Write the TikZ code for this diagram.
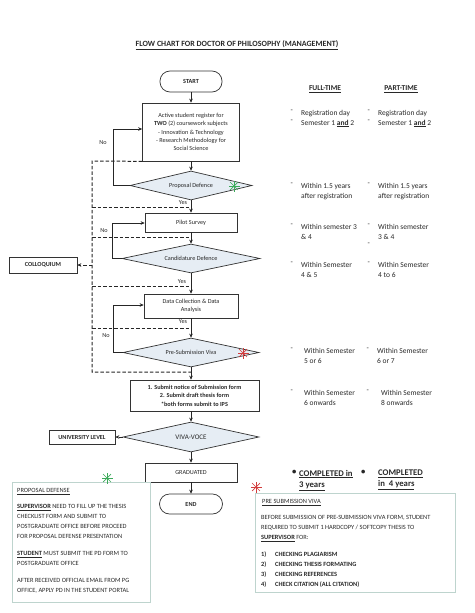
\documentclass[tikz,border=0pt]{standalone}
\usepackage{fontspec}
\setmainfont{Carlito}
\usetikzlibrary{shapes.geometric,arrows.meta}
\newcommand{\fsz}[2]{\fontsize{#1}{#2}\selectfont}
\definecolor{diafill}{RGB}{230,237,244}
\definecolor{notebd}{RGB}{190,212,206}
\definecolor{txt}{RGB}{40,40,40}
\definecolor{stargreen}{RGB}{60,170,90}
\definecolor{starred}{RGB}{210,60,60}
\begin{document}
\begin{tikzpicture}[x=1pt,y=-1pt,
  fbox/.style={draw=black!80, line width=0.7pt, fill=white, align=center, inner sep=1pt, font=\fsz{6.2}{8.3}, text=txt},
  fdia/.style={diamond, draw=black!80, line width=0.7pt, fill=diafill, aspect=4, inner sep=0pt, font=\fsz{6.2}{8.3}, text=txt},
  term/.style={fbox, rounded corners=10pt},
  arr/.style={-{Stealth[length=4pt,width=3.6pt]}, line width=0.7pt, draw=black!85},
  dsh/.style={line width=1pt, dash pattern=on 3.5pt off 2pt, draw=black!85},
  lbl/.style={font=\fsz{6.2}{8}, text=txt, inner sep=0pt},
  rt/.style={anchor=north west, inner sep=0pt, align=left, font=\fsz{7.5}{9.3}, text=txt},
  ct/.style={anchor=north west, inner sep=0pt, align=left, font=\bfseries\fsz{8.7}{11}, text=txt},
  nt/.style={anchor=north west, inner sep=0pt, align=left, font=\fsz{6.4}{10}, text=txt},
  note/.style={draw=notebd, line width=0.8pt, anchor=north west, inner sep=0pt},
  starline/.style={line width=0.7pt}
]
\useasboundingbox (0,0) rectangle (474,613);

% title
\node[font=\bfseries\fsz{8}{10}, text=txt] (title) at (237,45) {\underline{FLOW CHART FOR DOCTOR OF PHILOSOPHY (MANAGEMENT)}};

% flow nodes
\node[term, minimum width=62pt, minimum height=21pt, font=\bfseries\fsz{6.2}{8}] (start) at (191,81.5) {START};
\node[fbox, minimum width=97pt, minimum height=58pt] (active) at (191,132) {Active student register for\\\textbf{TWO} (2) coursework subjects\\- Innovation \& Technology\\- Research Methodology for\\Social Science};
\node[fdia, minimum width=122pt, minimum height=29pt] (pd) at (191,185.5) {Proposal Defence};
\node[fbox, minimum width=92pt, minimum height=19pt] (pilot) at (191,222.5) {Pilot Survey};
\node[fdia, minimum width=138pt, minimum height=29pt] (cd) at (191,258.5) {Candidature Defence};
\node[fbox, minimum width=68pt, minimum height=16pt, font=\bfseries\fsz{6.2}{8}] (colloq) at (43,265) {COLLOQUIUM};
\node[fbox, minimum width=94pt, minimum height=24pt] (data) at (191,306) {Data Collection \& Data\\Analysis};
\node[fdia, minimum width=136pt, minimum height=29pt] (psv) at (191,352.5) {Pre-Submission Viva};
\node[fbox, minimum width=129pt, minimum height=31pt, font=\bfseries\fsz{6.2}{8.5}] (submit) at (194.5,395.5) {1. Submit notice of Submission form\\2. Submit draft thesis form\\*both forms submit to IPS};
\node[fdia, minimum width=136pt, minimum height=30pt, font=\fsz{7}{8}] (viva) at (191,437) {VIVA-VOCE};
\node[fbox, minimum width=66pt, minimum height=14pt, font=\bfseries\fsz{6.2}{8}] (uni) at (82,437) {UNIVERSITY LEVEL};
\node[fbox, minimum width=92pt, minimum height=19pt] (grad) at (191,472.5) {GRADUATED};
\node[term, minimum width=63pt, minimum height=20pt, font=\bfseries\fsz{6.2}{8}] (endn) at (191,504) {END};

% main arrows
\draw[arr] (start) -- (active);
\draw[arr] (active) -- (pd);
\draw[arr] (pd) -- (pilot);
\draw[arr] (pilot) -- (cd);
\draw[arr] (cd) -- (data);
\draw[arr] (data) -- (psv);
\draw[arr] (psv.south) -- (psv.south |- submit.north);
\draw[arr] (submit.south -| viva.north) -- (viva.north);
\draw[arr] (viva) -- (grad);
\draw[arr] (grad) -- (endn);

% No loops
\coordinate (nopd) at (113,129);
\draw[arr] (pd.west) -| (nopd) -- (nopd -| active.west);
\coordinate (nocd) at (112,223);
\draw[arr] (cd.west) -| (nocd) -- (nocd -| pilot.west);
\coordinate (nopsv) at (113,305);
\draw[arr] (psv.west) -| (nopsv) -- (nopsv -| data.west);
\node[lbl] (no1) at (103,143) {No};
\node[lbl] (no2) at (104,231) {No};
\node[lbl] (no3) at (106,336) {No};
\node[lbl] (yes1) at (183,203) {Yes};
\node[lbl] (yes2) at (182,282) {Yes};
\node[lbl] (yes3) at (183,322) {Yes};

% dashed network
\coordinate (dtop) at (92,161);
\coordinate (dbot) at (92,372);
\draw[dsh] (active.south west) -- (dtop) -- (dbot) -- (dbot -| psv.south);
\coordinate (d1) at (92,207);
\draw[dsh] (d1) -- (d1 -| pd.south);
\coordinate (d2) at (92,237);
\draw[dsh] (d2) -- (d2 -| pilot.south);
\coordinate (d3) at (92,286);
\draw[dsh] (d3) -- (d3 -| cd.south);
\coordinate (d4) at (92,328);
\draw[dsh] (d4) -- (d4 -| data.south);
\coordinate (dc) at (92,265);
\draw[arr,dsh] (dc) -- (colloq.east);
\draw[arr,dsh] (viva.west) -- (uni.east);

% right columns
\node[font=\bfseries\fsz{7.5}{9}, text=txt] (ft) at (325,89) {\underline{FULL-TIME}};
\node[font=\bfseries\fsz{7.5}{9}, text=txt] (pt) at (401,89) {\underline{PART-TIME}};

\node[rt] (ftd1) at (290.5,110.3) {-\\-};
\node[rt] (ft1) at (301,110.3) {Registration day\\Semester 1 \underline{\textbf{and}} 2};
\node[rt] (ptd1) at (367.5,110.3) {-\\-};
\node[rt] (pt1) at (378,110.3) {Registration day\\Semester 1 \underline{\textbf{and}} 2};

\node[rt] (ftd2) at (290.5,183.3) {-};
\node[rt] (ft2) at (301,183.3) {Within 1.5 years\\after registration};
\node[rt] (ptd2) at (367.5,183.3) {-};
\node[rt] (pt2) at (378,183.3) {Within 1.5 years\\after registration};

\node[rt] (ftd3) at (290.5,224.3) {-};
\node[rt] (ft3) at (301,224.3) {Within semester 3\\\& 4};
\node[rt] (ptd3) at (367.5,224.3) {-\\\mbox{}\\-};
\node[rt] (pt3) at (378,224.3) {Within semester\\3 \& 4};

\node[rt] (ftd4) at (290.5,262.3) {-};
\node[rt] (ft4) at (301,262.3) {Within Semester\\4 \& 5};
\node[rt] (ptd4) at (367.5,262.3) {-};
\node[rt] (pt4) at (378,262.3) {Within Semester\\4 to 6};

\node[rt] (ftd5) at (290.5,348.3) {-};
\node[rt] (ft5) at (304,348.3) {Within Semester\\5 or 6};
\node[rt] (ptd5) at (366.5,348.3) {-};
\node[rt] (pt5) at (377,348.3) {Within Semester\\6 or 7};

\node[rt] (ftd6) at (290.5,390.3) {-};
\node[rt] (ft6) at (304,390.3) {Within Semester\\6 onwards};
\node[rt] (ptd6) at (366.5,390.3) {-};
\node[rt] (pt6) at (381,390.3) {Within Semester\\8 onwards};

\node[ct] (ftb) at (292,469.8) {\textbullet};
\node[ct] (ftc) at (299,469.8) {\underline{COMPLETED in}\\\underline{3 years}};
\node[ct] (ptb) at (361,469.8) {\textbullet};
\node[ct] (ptc) at (378,469.8) {\underline{COMPLETED}\\\underline{in\ \ 4 years}};

% notes
\node[note, minimum width=138pt, minimum height=120pt] (pdnote) at (12,482) {};
\node[nt] (pdh) at (17,487.9) {\underline{PROPOSAL DEFENSE}};
\node[nt] (pdp1) at (17,503.9) {\underline{\textbf{SUPERVISOR}} NEED TO FILL UP THE THESIS\\CHECKLIST FORM AND SUBMIT TO\\POSTGRADUATE OFFICE BEFORE PROCEED\\FOR PROPOSAL DEFENSE PRESENTATION};
\node[nt] (pdp2) at (17,550.9) {\underline{\textbf{STUDENT}} MUST SUBMIT THE PD FORM TO\\POSTGRADUATE OFFICE};
\node[nt] (pdp3) at (17,577.9) {AFTER RECEIVED OFFICIAL EMAIL FROM PG\\OFFICE, APPLY PD IN THE STUDENT PORTAL};

\node[note, minimum width=200pt, minimum height=99pt] (psnote) at (255,493) {};
\node[nt] (psh) at (262,498.9) {\underline{PRE SUBMISSION VIVA}};
\node[nt] (psp1) at (261,514.9) {BEFORE SUBMISSION OF PRE-SUBMISSION VIVA FORM, STUDENT\\REQUIRED TO SUBMIT 1 HARDCOPY / SOFTCOPY THESIS TO\\\underline{\textbf{SUPERVISOR}} FOR:};
\node[nt, font=\bfseries\fsz{6.4}{10}] (psn) at (261,551.9) {1)\\2)\\3)\\4)};
\node[nt, font=\bfseries\fsz{6.4}{10}] (psl) at (275,551.9) {CHECKING PLAGIARISM\\CHECKING THESIS FORMATING\\CHECKING REFERENCES\\CHECK CITATION (ALL CITATION)};

% stars
\coordinate (sg1) at (234,186);
\coordinate (sr1) at (243,353);
\coordinate (sg2) at (107,478);
\coordinate (sr2) at (256,487);
\foreach \a in {0,45,90,135} {
  \draw[starline, stargreen] (sg1) ++(\a:5.5) -- ++(\a+180:11);
  \draw[starline, starred] (sr1) ++(\a:5.5) -- ++(\a+180:11);
  \draw[starline, stargreen] (sg2) ++(\a:5.5) -- ++(\a+180:11);
  \draw[starline, starred] (sr2) ++(\a:5.5) -- ++(\a+180:11);
}
\end{tikzpicture}
\end{document}
